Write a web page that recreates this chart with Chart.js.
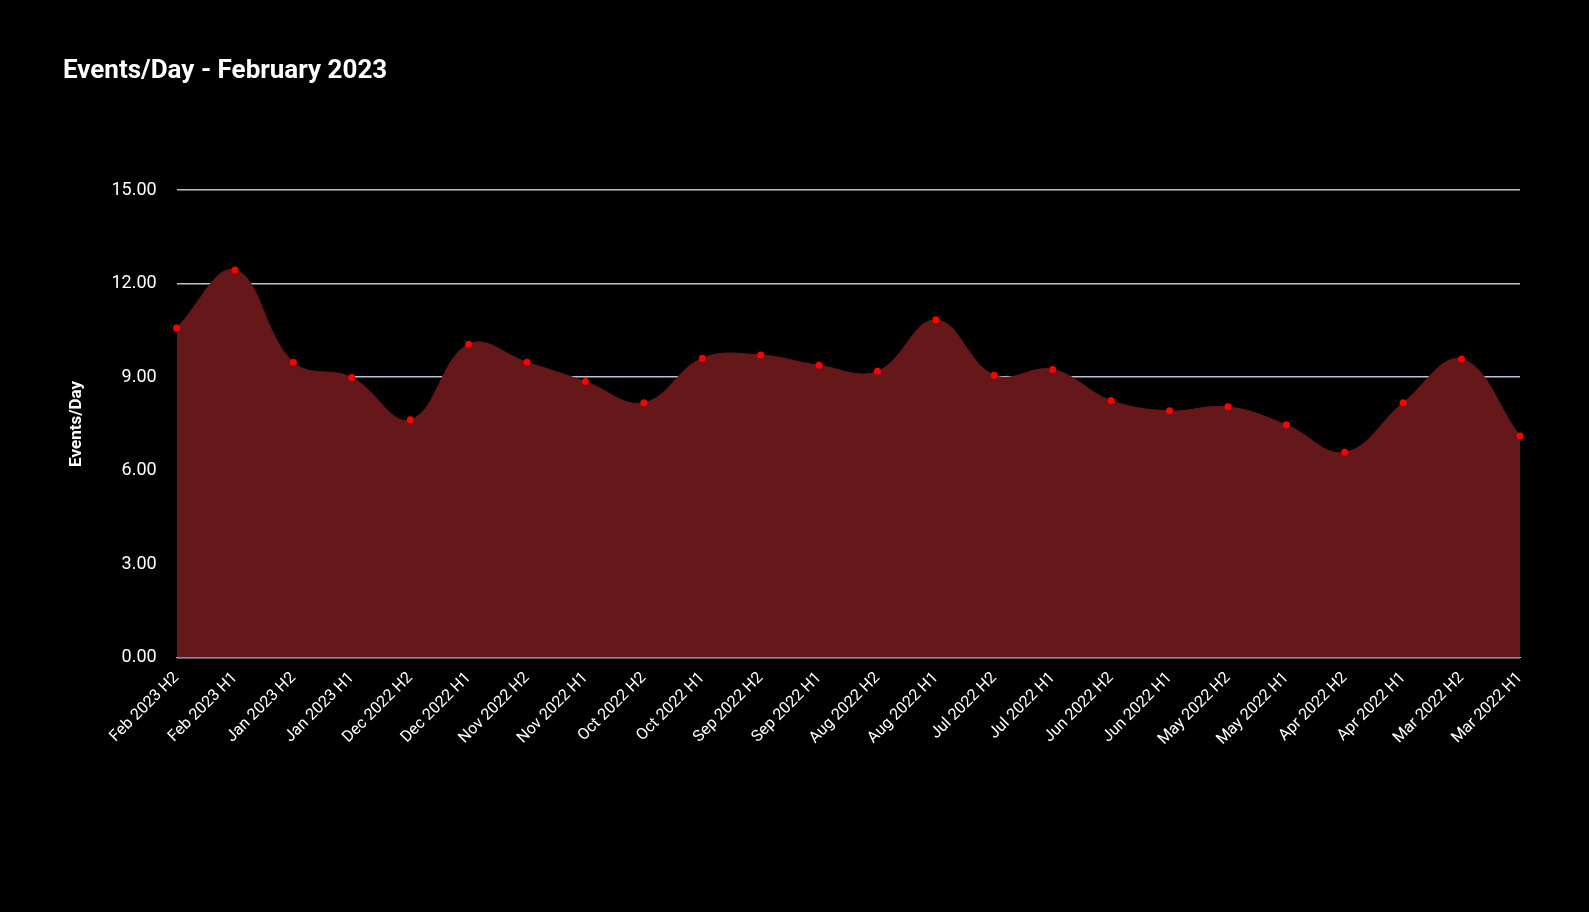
<!DOCTYPE html>
<html><head><meta charset="utf-8">
<script src="https://cdn.jsdelivr.net/npm/chart.js@4/dist/chart.umd.min.js"></script>
<style>html,body{margin:0;background:#000;}#w{width:1589px;height:912px;}</style>
</head><body><div id="w"><canvas id="c"></canvas></div>
<script>
const categories = ["Feb 2023 H2","Feb 2023 H1","Jan 2023 H2","Jan 2023 H1","Dec 2022 H2","Dec 2022 H1","Nov 2022 H2","Nov 2022 H1","Oct 2022 H2","Oct 2022 H1","Sep 2022 H2","Sep 2022 H1","Aug 2022 H2","Aug 2022 H1","Jul 2022 H2","Jul 2022 H1","Jun 2022 H2","Jun 2022 H1","May 2022 H2","May 2022 H1","Apr 2022 H2","Apr 2022 H1","Mar 2022 H2","Mar 2022 H1"];
const eventsPerDay = [10.58,12.44,9.48,8.99,7.63,10.06,9.48,8.86,8.18,9.61,9.71,9.38,9.19,10.84,9.06,9.25,8.25,7.92,8.05,7.47,6.59,8.18,9.58,7.11];
Chart.defaults.font.family = "Roboto";
Chart.defaults.color = "#fff";
new Chart(document.getElementById('c'), {
  type: 'line',
  data: { labels: categories, datasets: [{
    label: 'Events/Day', data: eventsPerDay, fill: 'origin', tension: 0.4,
    backgroundColor: '#661719', borderColor: '#661719', borderWidth: 1,
    pointRadius: 3.5, pointBackgroundColor: '#ff0000', pointBorderWidth: 0
  }]},
  options: {
    responsive: true, maintainAspectRatio: false, animation: false,
    layout: { padding: { left: 63, right: 69, top: 56, bottom: 160 } },
    plugins: {
      legend: { display: false },
      title: { display: true, text: 'Events/Day - February 2023', align: 'start',
        font: { size: 26, weight: 'bold' }, color: '#fff', padding: { top: 0, bottom: 103 } }
    },
    scales: {
      x: { offset: false, grid: { display: false, drawTicks: true }, border: { color: '#ccc' },
        ticks: { color: '#fff', font: { size: 16 }, maxRotation: 45, minRotation: 45, autoSkip: false } },
      y: { min: 0, max: 15, border: { display: false },
        grid: { color: '#b8c4d4', lineWidth: 1.5, drawTicks: false },
        ticks: { stepSize: 3, color: '#fff', font: { size: 18 }, padding: 20, callback: v => v.toFixed(2) },
        title: { display: true, text: 'Events/Day', color: '#fff', font: { size: 17, weight: 'bold' } } }
    }
  }
});
</script></body></html>
